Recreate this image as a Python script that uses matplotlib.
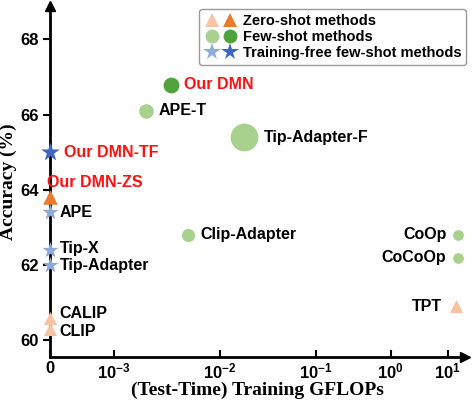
import numpy as np
import matplotlib
matplotlib.use("Agg")
import matplotlib.pyplot as plt
from matplotlib.lines import Line2D
from matplotlib.legend_handler import HandlerTuple

plt.rcParams["mathtext.fontset"] = "custom"
plt.rcParams["mathtext.bf"] = "Liberation Sans:bold"
plt.rcParams["mathtext.rm"] = "Liberation Sans:bold"

names = ["CLIP","CALIP","Tip-Adapter","Tip-X","APE","Our DMN-ZS","Our DMN-TF",
         "APE-T","Our DMN","Tip-Adapter-F","Clip-Adapter","CoOp","CoCoOp","TPT"]
gflops = [0,0,0,0,0,0,0,0.002,0.0035,0.018,0.005,15,15,14]
acc = [60.3,60.6,62.0,62.4,63.4,63.8,65.0,66.1,66.8,65.4,62.8,62.8,62.2,60.9]
kind = ["zs","zs","tf","tf","tf","zs*","tf*","fs","fs*","fs","fs","fs","fs","zs"]
sizes = [90,90,150,150,150,110,200,110,130,400,90,60,60,90]

knots_l = [-4,-3,-2,-1,0,1,2]
knots_p = [50,114,220,316,391,448,505]
def fwd(x):
    x = np.asarray(x, float)
    lg = np.log10(np.clip(x, 1e-12, None))
    return np.interp(lg, knots_l, knots_p)
def inv(p):
    return 10 ** np.interp(np.asarray(p, float), knots_p, knots_l)

style = {"zs": ("^", "#f8c3a3"), "zs*": ("^", "#ea7a2c"),
         "fs": ("o", "#a9d18e"), "fs*": ("o", "#4fa33a"),
         "tf": ("*", "#8eaadb"), "tf*": ("*", "#3d66c0")}

fig = plt.figure(figsize=(4.74, 4.04), dpi=100)
ax = fig.add_axes([0.105, 0.116, 0.875, 0.87])
ax.set_xscale("function", functions=(fwd, inv))
ax.set_xlim(0, float(inv(465)))
ax.set_ylim(59.55, 68.9)

for n, g, a, k, s in zip(names, gflops, acc, kind, sizes):
    m, c = style[k]
    ax.scatter([g], [a], marker=m, s=s, color=c, zorder=3, clip_on=False, linewidths=0)

lab_font = dict(family="Liberation Sans", weight="bold", fontsize=11.5)
offs = {"CLIP":(7,-2,"left"),"CALIP":(7,3,"left"),"Tip-Adapter":(7,0,"left"),
        "Tip-X":(7,1,"left"),"APE":(7,0,"left"),"Our DMN-ZS":(-2,11,"left"),
        "Our DMN-TF":(10,0,"left"),"APE-T":(9,0,"left"),"Our DMN":(9,0,"left"),
        "Tip-Adapter-F":(14,0,"left"),"Clip-Adapter":(9,0,"left"),
        "CoOp":(-8,0,"right"),"CoCoOp":(-8,0,"right"),"TPT":(-10,0,"right")}
for n, g, a in zip(names, gflops, acc):
    dx, dy, ha = offs[n]
    col = "#ff1010" if n.startswith("Our") else "black"
    ax.annotate(n, (g, a), xytext=(dx, dy), textcoords="offset points",
                ha=ha, va="center", color=col, **lab_font)

ax.set_xticks([0, 1e-3, 1e-2, 1e-1, 1, 10])
ax.set_xticklabels(["0", "$\\mathbf{10^{-3}}$", "$\\mathbf{10^{-2}}$", "$\\mathbf{10^{-1}}$",
                    "$\\mathbf{10^{0}}$", "$\\mathbf{10^{1}}$"])
ax.xaxis.set_minor_locator(matplotlib.ticker.NullLocator())
ax.set_yticks([60, 62, 64, 66, 68])
for t in ax.get_xticklabels() + ax.get_yticklabels():
    t.set_fontfamily("Liberation Sans"); t.set_fontweight("bold"); t.set_fontsize(12)
ax.tick_params(direction="in", length=5, width=1.5, pad=3)
ax.tick_params(axis="y", direction="out")
for sp in ["top", "right"]:
    ax.spines[sp].set_visible(False)
for sp in ["left", "bottom"]:
    ax.spines[sp].set_linewidth(2)
ax.plot(1, 0, ">k", transform=ax.transAxes, clip_on=False, ms=7)
ax.plot(0, 1, "^k", transform=ax.transAxes, clip_on=False, ms=7)
ax.set_xlabel("(Test-Time) Training GFLOPs", family="Liberation Serif", weight="bold", fontsize=14, labelpad=0)
ax.set_ylabel("Accuracy (%)", family="Liberation Serif", weight="bold", fontsize=14, labelpad=2)

def mk(m, c, s):
    return Line2D([], [], marker=m, color=c, ls="", ms=s, mew=0)
h = [(mk("^", "#f8c3a3", 10), mk("^", "#ea7a2c", 10)),
     (mk("o", "#a9d18e", 10), mk("o", "#4fa33a", 10)),
     (mk("*", "#8eaadb", 13), mk("*", "#3d66c0", 13))]
ax.legend(h, ["Zero-shot methods", "Few-shot methods", "Training-free few-shot methods"],
          handler_map={tuple: HandlerTuple(ndivide=None, pad=0.1)},
          loc="upper right", bbox_to_anchor=(1.02, 1.01), handlelength=2.4,
          handletextpad=0.3, labelspacing=0.15, borderpad=0.3,
          prop=dict(family="Liberation Sans", weight="bold", size=10.5),
          fancybox=True, edgecolor="#999999", framealpha=1)
fig.savefig("out.png", dpi=100)
